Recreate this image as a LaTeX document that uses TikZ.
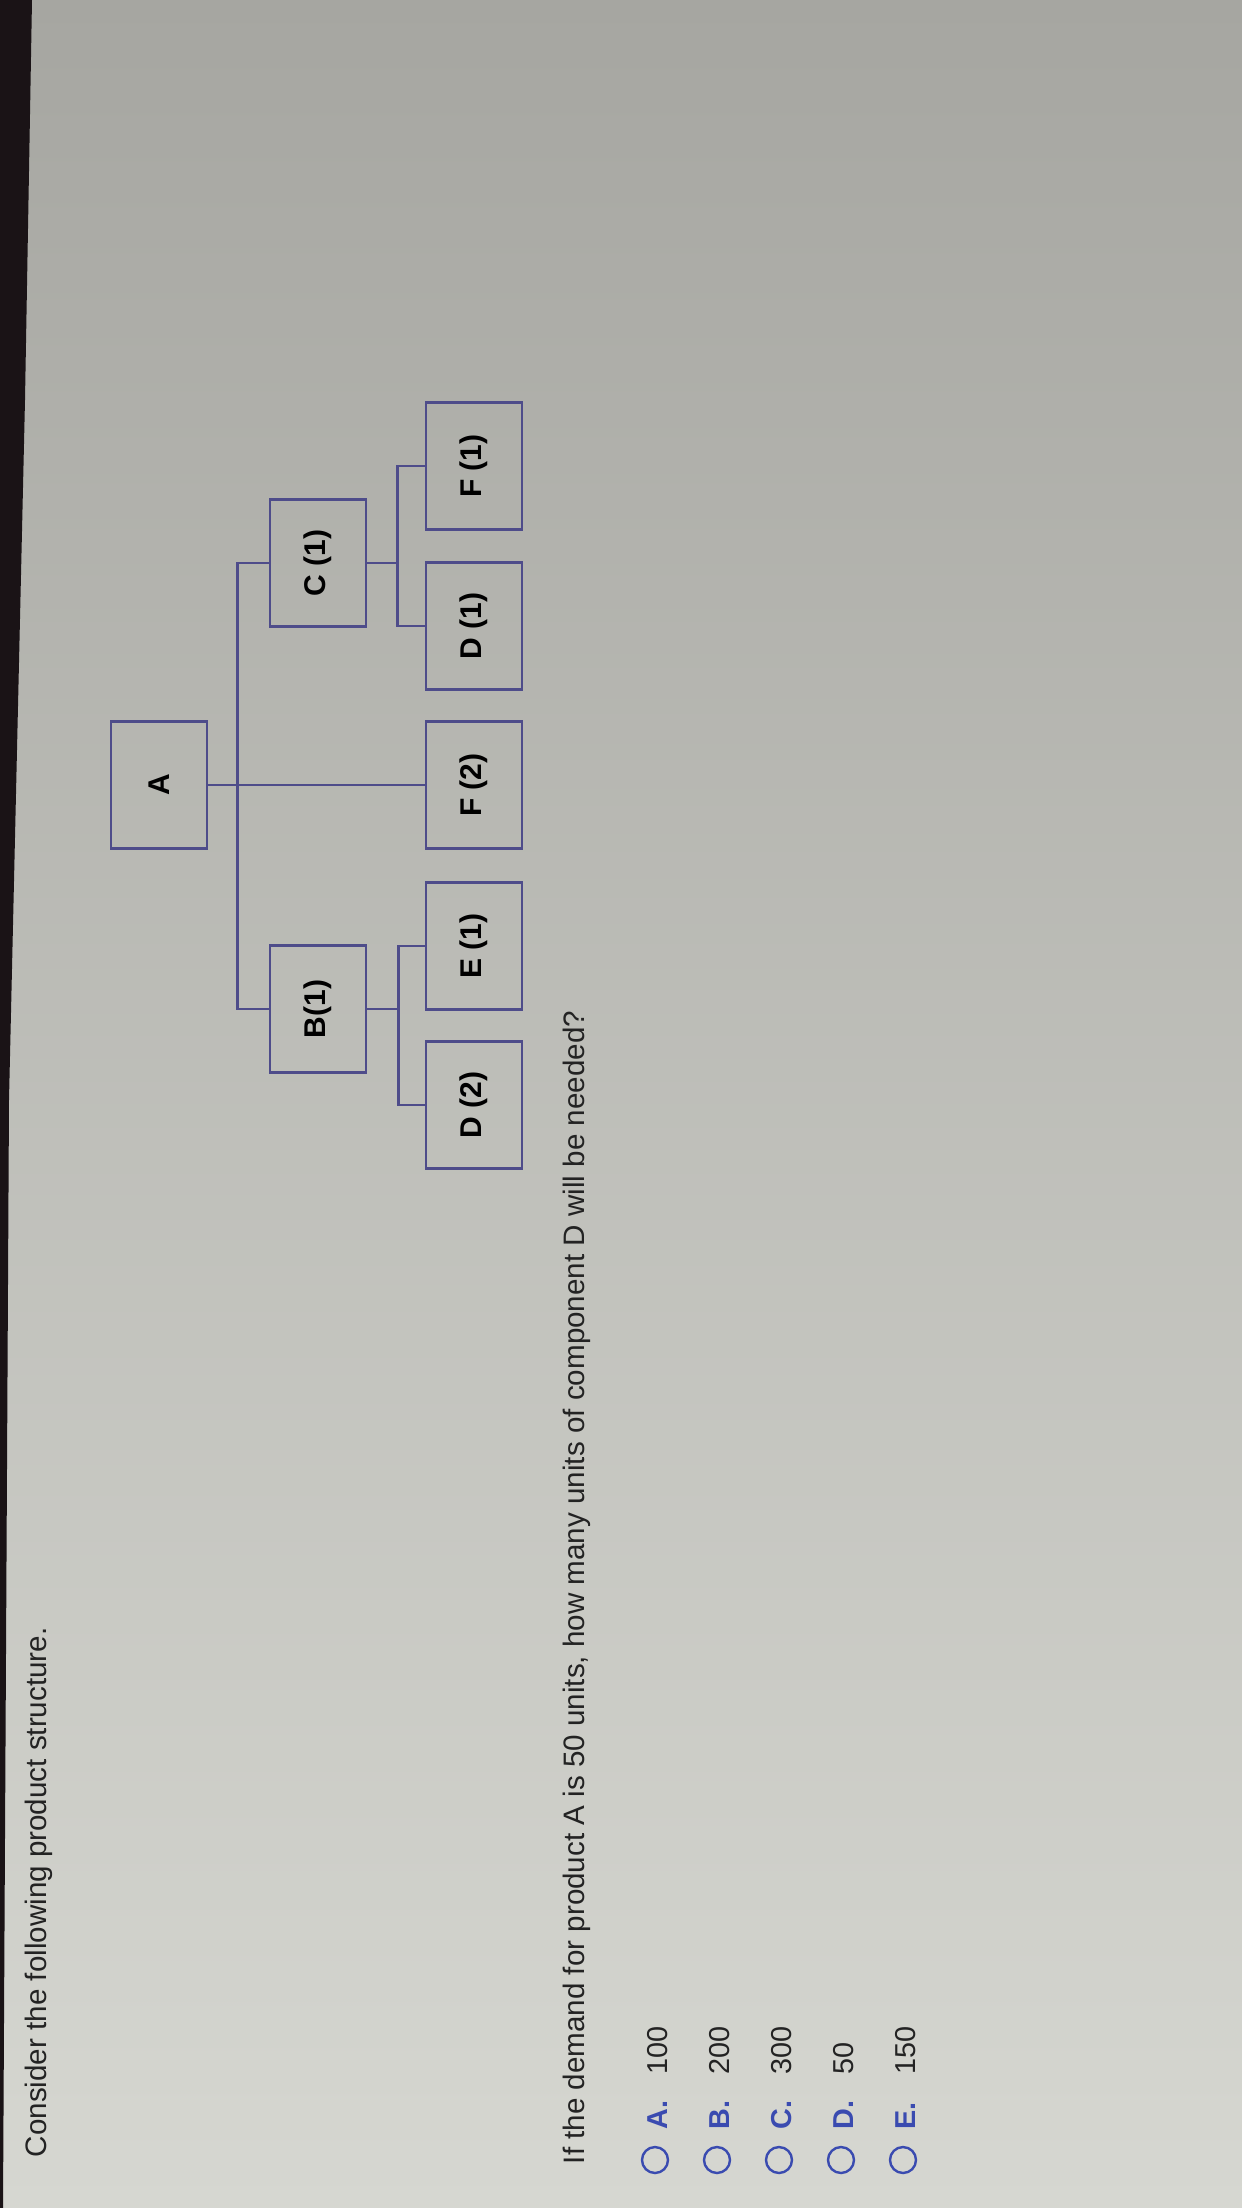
\documentclass[tikz,border=0pt]{standalone}
\usepackage{fontspec}
\setmainfont{Liberation Sans}
\usetikzlibrary{positioning}

\definecolor{boxline}{HTML}{4E4C8A}
\definecolor{optblue}{HTML}{3A4BB0}
\definecolor{inktext}{HTML}{232323}
\definecolor{screentop}{HTML}{A6A6A1}
\definecolor{screenmid}{HTML}{C6C7C1}
\definecolor{screenlow}{HTML}{D6D7D1}
\definecolor{bezel}{HTML}{1A1316}

\begin{document}
\begin{tikzpicture}[x=0.25pt, y=-0.25pt,
		part/.style = {draw=boxline, line width=0.7pt, rotate=90,
			minimum width=31.75pt, minimum height=24pt, inner sep=0pt,
			text=black, font=\bfseries\fontsize{7.5}{9}\selectfont},
		link/.style = {draw=boxline, line width=0.6pt},
		txt/.style = {rotate=90, inner sep=0pt, text=inktext,
			font=\fontsize{7.4}{9}\selectfont},
		radio/.style = {circle, draw=optblue, line width=0.6pt,
			minimum size=6.5pt, inner sep=0pt},
		optkey/.style = {txt, text=optblue, font=\bfseries\fontsize{7.2}{9}\selectfont},
		optval/.style = {txt, text=inktext, font=\fontsize{7.2}{9}\selectfont}
                    ]
		% screen
		\useasboundingbox (0,0) rectangle (1242,2208);
		\shade[top color=screentop, middle color=screenmid, bottom color=screenlow]
			(0,0) rectangle (1242,2208);
		\fill[bezel] (0,0) -- (32,0) -- (25,400) -- (9,1100) -- (3,2208) -- (0,2208) -- cycle;

		\node(title) [txt, anchor=base west] at (47, 2158) {Consider the following product structure.};

		% product structure
		\node(A)  [part] at (159, 785)  {A};
		\node(C1) [part] at (318, 563)  {C (1)};
		\node(B1) [part] at (318, 1009) {B(1)};
		\node(F1) [part] at (474, 466)  {F (1)};
		\node(D1) [part] at (474, 626)  {D (1)};
		\node(F2) [part] at (474, 785)  {F (2)};
		\node(E1) [part] at (474, 946)  {E (1)};
		\node(D2) [part] at (474, 1105) {D (2)};

		\path[link] (A.south) -- (F2.north);
		\path[link] (C1.north) -- ++(-31,0) |- (B1.north);
		\path[link] (C1.south) -- ++(30,0) coordinate (cC);
		\path[link] (F1.north) -| (cC) |- (D1.north);
		\path[link] (B1.south) -- ++(31,0) coordinate (cB);
		\path[link] (E1.north) -| (cB) |- (D2.north);

		\node(question) [txt, anchor=base west] at (584, 2165)
			{If the demand for product A is 50 units, how many units of component D will be needed?};

		% answers
		\node(oA) [radio] at (655, 2160) {};
		\node(kA) [optkey, anchor=base west] at (667, 2130) {A.};
		\node(vA) [optval, anchor=base west] at (667, 2075) {100};
		\node(oB) [radio] at (717, 2160) {};
		\node(kB) [optkey, anchor=base west] at (729, 2130) {B.};
		\node(vB) [optval, anchor=base west] at (729, 2075) {200};
		\node(oC) [radio] at (779, 2160) {};
		\node(kC) [optkey, anchor=base west] at (791, 2130) {C.};
		\node(vC) [optval, anchor=base west] at (791, 2075) {300};
		\node(oD) [radio] at (841, 2160) {};
		\node(kD) [optkey, anchor=base west] at (853, 2130) {D.};
		\node(vD) [optval, anchor=base west] at (853, 2075) {50};
		\node(oE) [radio] at (903, 2160) {};
		\node(kE) [optkey, anchor=base west] at (915, 2130) {E.};
		\node(vE) [optval, anchor=base west] at (915, 2075) {150};
	\end{tikzpicture}
\end{document}
